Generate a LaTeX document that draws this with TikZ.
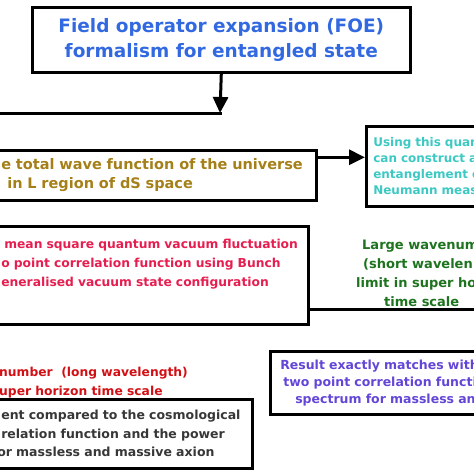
\documentclass[tikz,border=0pt]{standalone}
\usepackage{fontspec}
\setmainfont{DejaVu Sans}
\usetikzlibrary{arrows.meta}
\definecolor{foeblue}{RGB}{50,105,225}
\definecolor{waveolive}{RGB}{165,128,25}
\definecolor{quantcyan}{RGB}{60,200,195}
\definecolor{vaccrimson}{RGB}{230,30,80}
\definecolor{largegreen}{RGB}{30,115,30}
\definecolor{smallred}{RGB}{210,15,20}
\definecolor{resgray}{RGB}{55,55,55}
\definecolor{matchpurple}{RGB}{100,70,215}
\begin{document}
\begin{tikzpicture}[x=1pt,y=-1pt]
    \tikzset{box/.style={draw,rectangle,line width=2.6pt,inner xsep=10pt,align=left}}
    \tikzset{conn/.style={line width=3pt}}
    \tikzset{arr/.style={conn,-{Triangle[length=16pt,width=15pt]}}}
    \useasboundingbox (0,0) rectangle (474,474);
    \clip (0,0) rectangle (474,474);
    \node[box,anchor=north west,minimum width=378pt,minimum height=65pt,align=center,
        text=foeblue,font=\bfseries\fontsize{18.5}{25}\selectfont] (foe) at (31,6)
        {Field operator expansion (FOE)\\formalism for entangled state};
    \node[box,anchor=north west,text width=305pt,minimum height=50pt,
        text=waveolive,font=\bfseries\fontsize{14.5}{19}\selectfont] (wave) at (-10,149)
        {e total wave function of the universe\\\hspace*{6pt}in L region of dS space};
    \node[box,anchor=north west,text width=200pt,inner xsep=7pt,minimum height=80pt,
        text=quantcyan,font=\bfseries\fontsize{12}{16}\selectfont] (quant) at (365,125)
        {Using this quan\\can construct a\\entanglement e\\Neumann measu};
    \node[box,anchor=north west,text width=297pt,minimum height=98pt,text depth=62pt,
        text=vaccrimson,font=\bfseries\fontsize{12.3}{19}\selectfont] (vac) at (-10,225)
        {\hspace*{3pt}mean square quantum vacuum fluctuation\\o point correlation function using Bunch\\eneralised vacuum state configuration};
    \node[anchor=north west,inner sep=0pt,align=left,
        text=largegreen,font=\bfseries\fontsize{13}{19}\selectfont] (large) at (356,239)
        {\hspace*{6pt}Large wavenumb\\\hspace*{7pt}(short wavelen\\limit in super ho\\\hspace*{28pt}time scale};
    \node[anchor=north west,inner sep=0pt,align=left,
        text=smallred,font=\bfseries\fontsize{12.3}{19}\selectfont] (small) at (-1,367)
        {number~~(long wavelength)\\uper horizon time scale};
    \node[box,anchor=north west,text width=241pt,minimum height=69pt,
        text=resgray,font=\bfseries\fontsize{12.5}{18.5}\selectfont] (res) at (-10,398)
        {ent compared to the cosmological\\relation function and the power\\\hspace*{-4pt}or massless and massive axion};
    \node[box,anchor=north west,text width=230pt,minimum height=63pt,
        text=matchpurple,font=\bfseries\fontsize{12.5}{17}\selectfont] (match) at (269,350)
        {Result exactly matches with\\\hspace*{3pt}two point correlation functi\\\hspace*{15pt}spectrum for massless an};
    \coordinate (split) at (220,113);
    \coordinate (lend) at (-5,113);
    \coordinate (tip) at ([yshift=9pt]quant.west);
    \coordinate (lwend) at (480,309);
    \draw[arr] (foe.south) -- (split);
    \draw[conn] (lend) -- ([xshift=1.5pt]split);
    \draw[arr] (wave.east |- tip) -- (tip);
    \draw[conn] (vac.east |- lwend) -- (lwend);
\end{tikzpicture}
\end{document}
